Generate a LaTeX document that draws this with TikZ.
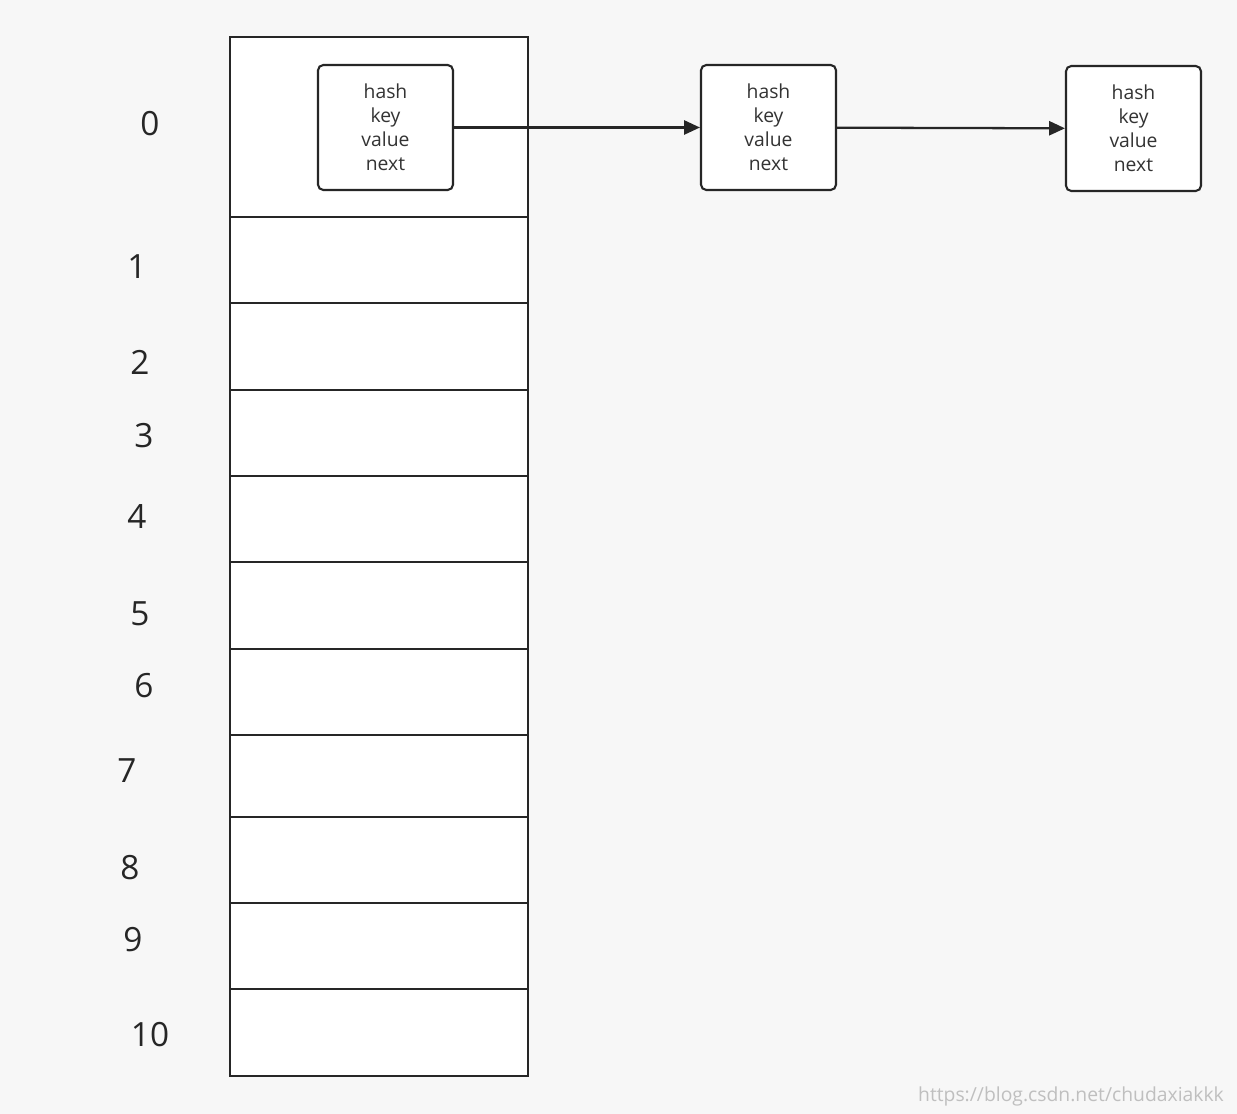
\documentclass[tikz,border=0pt]{standalone}
\usepackage{fontspec}
\setmainfont{Open Sans}
\usetikzlibrary{arrows.meta}
\tikzset{
  slot/.style={draw=black!85, line width=1.2pt, fill=white},
  entry/.style={draw=black!85, line width=1.2pt, fill=white, rounded corners=3pt,
    minimum width=2.7cm, minimum height=2.5cm, align=center, font=\fontsize{11}{13.6}\selectfont, text=black!80},
  idx/.style={font=\fontsize{19}{20}\selectfont, text=black!85},
  link/.style={line width=1.3pt, draw=black!85, -{Triangle[length=9pt,width=8pt]}}
}
\begin{document}
\begin{tikzpicture}[x=0.02cm,y=-0.02cm]
\useasboundingbox[fill=black!3] (0,0) rectangle (1237,1114);
% array of buckets
\node[slot, minimum width=5.96cm, minimum height=3.6cm, inner sep=0] (b0) at (379,127) {};
\foreach \t/\b [count=\i] in {217/303,303/390,390/476,476/562,562/649,649/735,735/817,817/903,903/989,989/1076}
  \draw[slot] (230,\t) rectangle (528,\b);
% indices
\foreach \n/\x/\y in {0/150/124,1/137/267,2/140/362,3/144/436,4/137/517,5/140/614,6/144/686,7/127/771,8/130/868,9/133/940,10/150/1035}
  \node[idx] (i\n) at (\x,\y) {\n};
% entries
\node[entry] (e1) at (385.5,127.5) {hash\\key\\value\\next};
\node[entry] (e2) at (768.5,127.5) {hash\\key\\value\\next};
\node[entry] (e3) at (1133.5,128.5) {hash\\key\\value\\next};
\draw[link] (e1) -- (e2);
\draw[link] (e2) -- (e3);
\node[text=black!25, font=\fontsize{11}{12}\selectfont, anchor=east] (wm) at (1230,1096) {https://blog.csdn.net/chudaxiakkk};
\end{tikzpicture}
\end{document}
